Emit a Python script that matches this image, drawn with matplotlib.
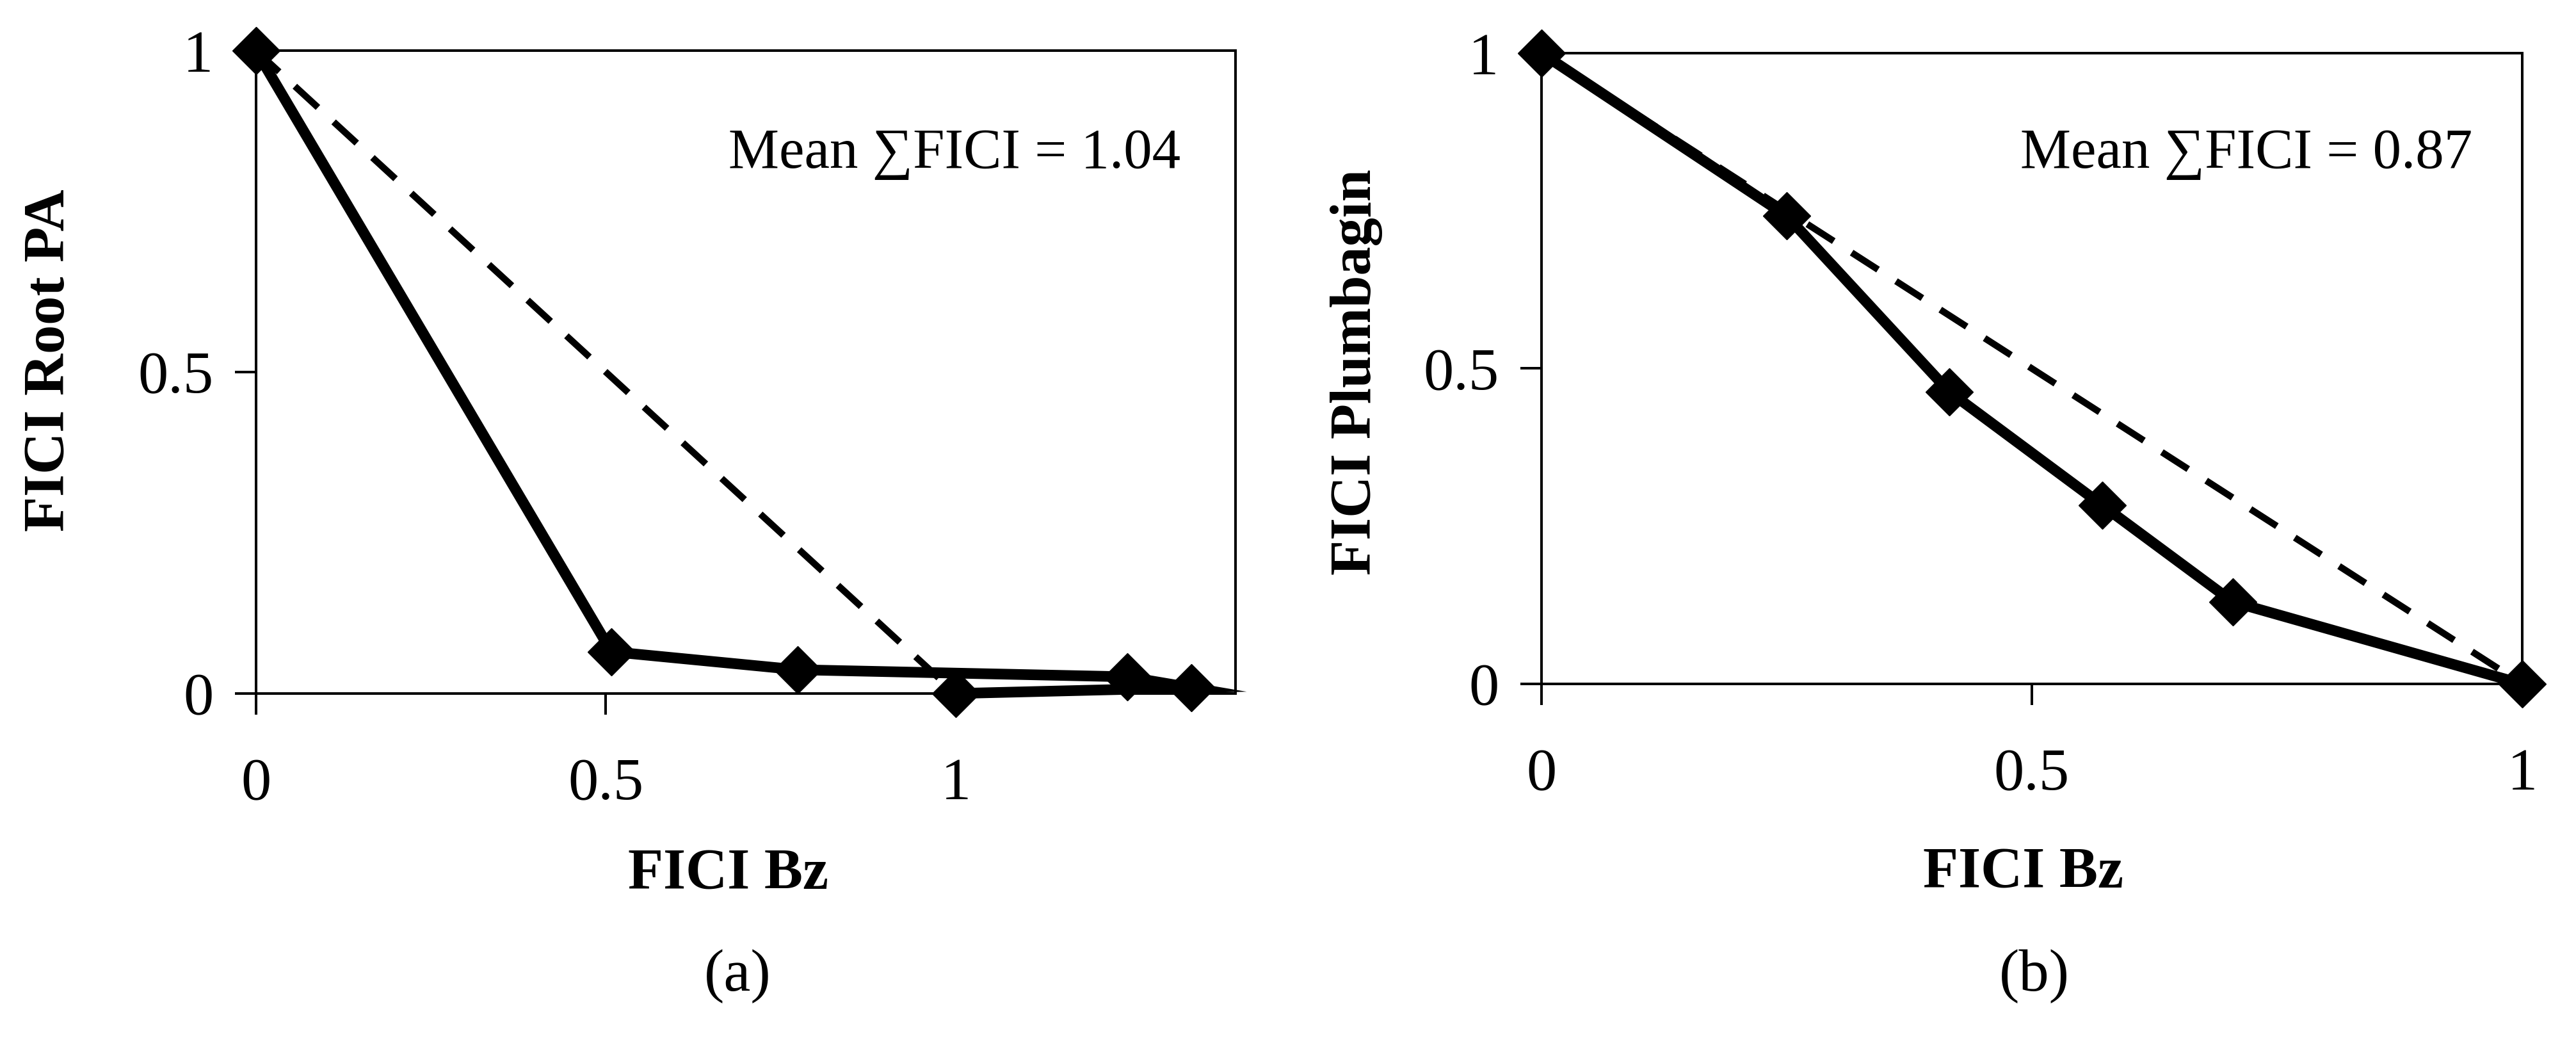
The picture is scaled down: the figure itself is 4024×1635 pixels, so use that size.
import matplotlib
matplotlib.use("Agg")
import matplotlib.pyplot as plt

plt.rcParams['font.family'] = ['Liberation Serif', 'DejaVu Serif']

# ---- data ----
a_bz = [0.0, 0.508, 0.774, 1.245, 1.337, 1.0]
a_pa = [1.0, 0.065, 0.037, 0.026, 0.009, 0.0]
b_bz = [0.0, 0.25, 0.416, 0.572, 0.705, 1.0]
b_plumbagin = [1.0, 0.742, 0.463, 0.283, 0.130, 0.0]
additive_x = [0.0, 1.0]
additive_y = [1.0, 0.0]
ticks = [0, 0.5, 1]
tick_labels = ["0", "0.5", "1"]
mean_a = "Mean \u2211FICI = 1.04"
mean_b = "Mean \u2211FICI = 0.87"

W, H = 4024, 1635
fig = plt.figure(figsize=(W / 100, H / 100), dpi=100)

ax_a = fig.add_axes([400 / W, 1 - 1083 / H, 1530 / W, 1004 / H])
ax_b = fig.add_axes([2408 / W, 1 - 1068 / H, 1532 / W, 985 / H])


def style(ax, xmax, xlabel, ylabel, mean_text, ylab_x, ylab_y, xlab_x, xlab_y, mean_x):
    ax.set_xlim(0, xmax)
    ax.set_ylim(0, 1)
    ax.set_xticks(ticks)
    ax.set_xticklabels(tick_labels)
    ax.set_yticks(ticks)
    ax.set_yticklabels(tick_labels)
    for s in ax.spines.values():
        s.set_linewidth(2.9)
        s.set_color('black')
    ax.tick_params(axis='both', direction='out', length=24, width=2.9,
                   labelsize=68, colors='black')
    ax.tick_params(axis='y', pad=24)
    ax.tick_params(axis='x', pad=48)
    ax.set_xlabel(xlabel, fontsize=65, fontweight='bold')
    ax.set_ylabel(ylabel, fontsize=65, fontweight='bold')
    ax.xaxis.label.set_verticalalignment('baseline')
    ax.xaxis.set_label_coords(xlab_x, xlab_y)
    ax.yaxis.label.set_verticalalignment('baseline')
    ax.yaxis.set_label_coords(ylab_x, ylab_y)
    ax.text(mean_x, 0.818, mean_text, transform=ax.transAxes, ha='right',
            va='baseline', fontsize=64)


for ax, xs, ys in [(ax_a, a_bz, a_pa), (ax_b, b_bz, b_plumbagin)]:
    ax.plot(additive_x, additive_y, color='black', lw=7.5,
            linestyle=(0, (4.7, 3.2)), clip_on=False, zorder=3)
    ax.plot(xs, ys, color='black', lw=12, marker='D', markersize=38,
            clip_on=False, zorder=4, solid_joinstyle='miter')

style(ax_a, 1.4, "FICI Bz", "FICI Root PA", mean_a, -0.196, 0.518, 0.482, -0.303, 0.944)
style(ax_b, 1.0, "FICI Bz", "FICI Plumbagin", mean_b, -0.174, 0.494, 0.491, -0.322, 0.949)

fig.text(1152 / W, 1 - 1547 / H, "(a)", ha='center', va='baseline', fontsize=68)
fig.text(3178 / W, 1 - 1547 / H, "(b)", ha='center', va='baseline', fontsize=68)

fig.savefig("out.png", dpi=100, facecolor='white')
